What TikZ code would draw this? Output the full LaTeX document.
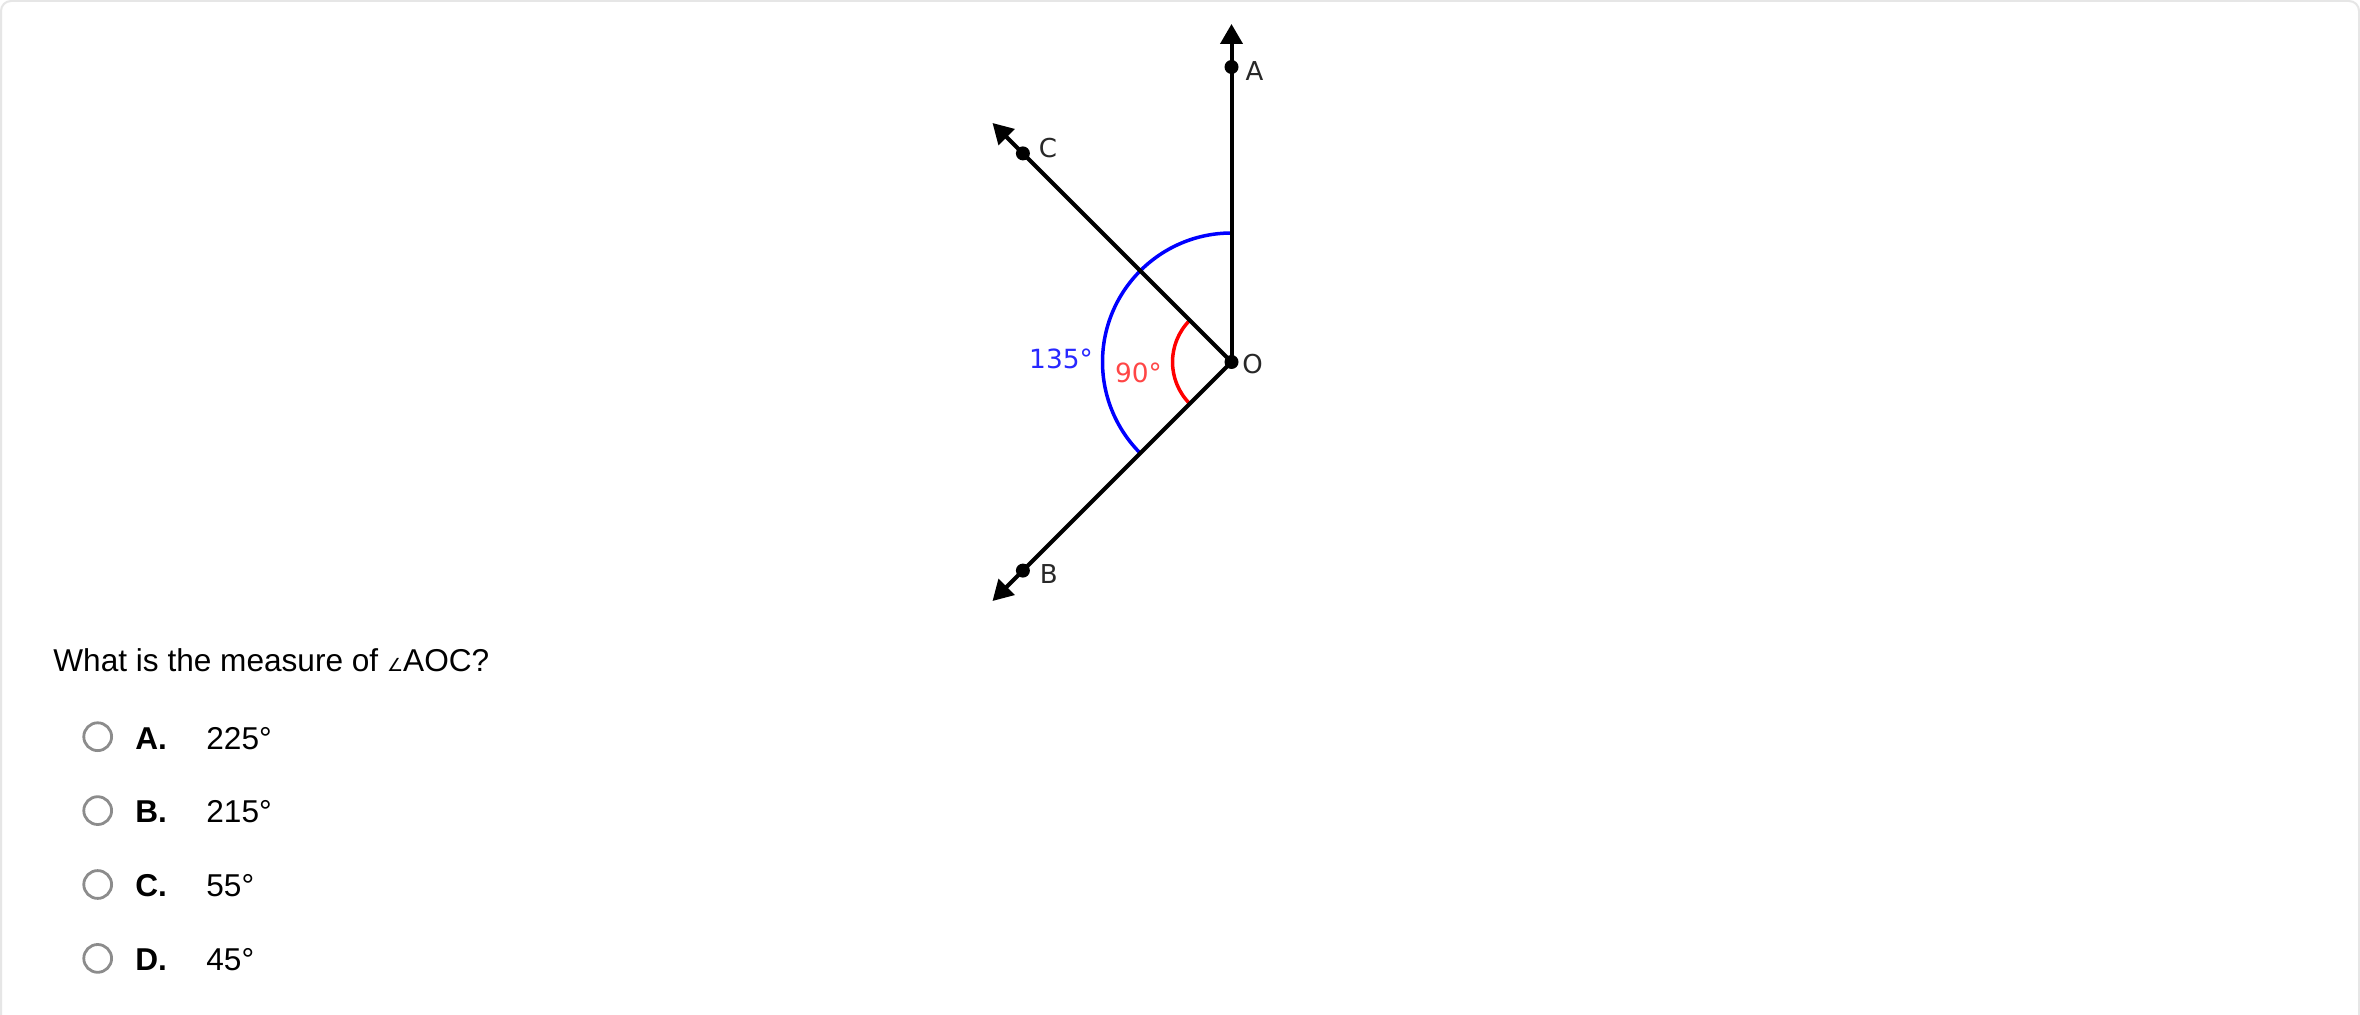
\documentclass[tikz,border=0pt]{standalone}
\usepackage{fontspec}
\setmainfont{Liberation Sans}
\newfontfamily\geo{DejaVu Sans}
\usetikzlibrary{arrows.meta,calc}
\definecolor{framegray}{RGB}{230,230,230}
\definecolor{radiogray}{RGB}{140,140,140}
\definecolor{lblblue}{RGB}{40,40,255}
\definecolor{lblred}{RGB}{255,70,70}
\definecolor{ptgray}{RGB}{40,40,40}
\begin{document}
\begin{tikzpicture}[x=0.5pt,y=0.5pt,
  ray/.style={line width=2pt, -{Triangle[length=10pt,width=11pt]}},
  ptdot/.style={circle, fill=black, inner sep=0pt, minimum size=7pt},
  ptlab/.style={font=\geo\fontsize{13}{13}\selectfont, text=ptgray, inner sep=0pt},
  anglab/.style={font=\geo\fontsize{13.2}{13.2}\selectfont, inner sep=0pt},
  qtext/.style={font=\fontsize{15.8}{18}\selectfont, anchor=base west, inner sep=0pt},
  optletter/.style={font=\fontsize{15.8}{18}\selectfont\bfseries, anchor=base west, inner sep=0pt},
  radio/.style={circle, draw=radiogray, line width=1.4pt, minimum size=13.9pt, inner sep=0pt},
  arcline/.style={line width=1.75pt}
]
\useasboundingbox (0,0) rectangle (2360,-1015);
\fill[white] (0,0) rectangle (2360,-1015);
\draw[framegray, line width=1pt, rounded corners=5pt] (1,-1) rectangle (2359,-1060);

% geometry
\coordinate (O) at (1231.5,-362);
\coordinate (Atip) at ($(O)+(90:338)$);
\coordinate (Ctip) at ($(O)+(135:338)$);
\coordinate (Btip) at ($(O)+(225:338)$);

% arcs
\draw[arcline, blue] ($(O)+(90:129)$) arc[start angle=90, end angle=225, radius=64.5pt];
\draw[arcline, red] ($(O)+(135:59)$) arc[start angle=135, end angle=225, radius=29.5pt];

% rays
\draw[ray] (O) -- (Atip);
\draw[ray] (O) -- (Ctip);
\draw[ray] (O) -- (Btip);

% points
\node[ptdot] (A) at ($(O)+(90:295)$) {};
\node[ptdot] (C) at ($(O)+(135:295)$) {};
\node[ptdot] (B) at ($(O)+(225:295)$) {};
\node[ptdot] (Odot) at (O) {};

\node[ptlab] (Alab) at ($(A)+(23,-4)$) {A};
\node[ptlab] (Clab) at ($(C)+(25,5)$) {C};
\node[ptlab] (Blab) at ($(B)+(26,-3)$) {B};
\node[ptlab] (Olab) at ($(O)+(21,-2)$) {O};

\node[anglab, text=lblblue] (big) at (1061,-358.5) {135°};
\node[anglab, text=lblred] (small) at (1138.5,-373) {90°};

% question
\node[qtext] (q) at (53,-671) {What is the measure of {\geo\fontsize{9}{9}\selectfont ∠}AOC?};

% options
\foreach \i/\ltr/\val in {0/A/225,1/B/215,2/C/55,3/D/45}{
  \node[radio] (r\ltr) at (97.7,{-736.7-73.9*\i}) {};
  \node[optletter] (l\ltr) at (135,{-749-73.9*\i}) {\ltr.};
  \node[qtext] (v\ltr) at (206,{-749-73.9*\i}) {\val°};
}
\end{tikzpicture}
\end{document}
